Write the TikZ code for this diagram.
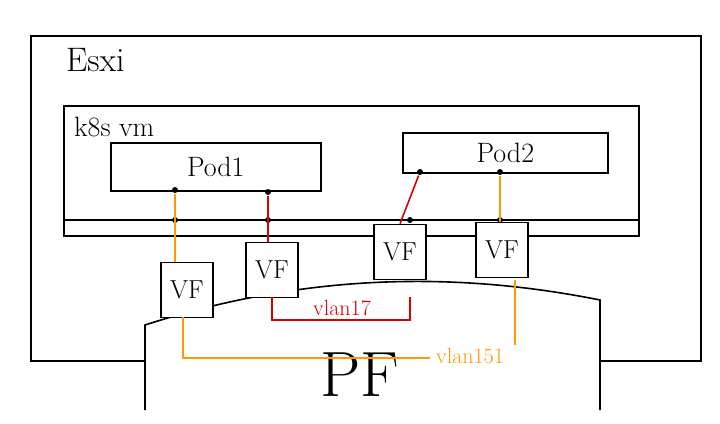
\documentclass[tikz,border=0pt]{standalone}
\begin{document}
\begin{tikzpicture}[x=1pt,y=-1pt,line width=1.6pt,
  fs/.style={font=\fontsize{#1}{#1}\selectfont},
  vf/.style={draw,fill=white,minimum width=52pt,minimum height=55pt,fs=26,inner sep=0pt},
  dot/.style={circle,fill=black,inner sep=0pt,minimum size=6pt},
  ylw/.style={draw=orange!80!yellow},
  rd/.style={draw=red!85!black}]
\useasboundingbox (0,0) rectangle (720,423);
\node[draw,minimum width=670pt,minimum height=325pt,anchor=north west] (esxi) at (30,35) {};
\node[fs=34,anchor=west] (tesxi) at (62,60) {Esxi};
\node[draw,minimum width=575pt,minimum height=130pt,anchor=north west] (vm) at (63,105) {};
\node[fs=28,anchor=west] (tvm) at (70,127) {k8s vm};
\node[draw,minimum width=210pt,minimum height=48pt,anchor=north west,fs=28] (pod1) at (110,142) {Pod1};
\node[draw,minimum width=205pt,minimum height=40pt,anchor=north west,fs=28] (pod2) at (402,132) {Pod2};
\coordinate (l1) at (63,220); \coordinate (l2) at (638,220);
\draw (l1) -- (l2);
% PF
\draw[fill=white] (145,410) -- (145,325) .. controls (300,275) and (450,270) .. (600,300) -- (600,410);
\node[fs=64] (pf) at (360,375) {PF};
\node[vf] (vf1) at (187,290) {VF};
\node[vf] (vf2) at (272,270) {VF};
\node[vf] (vf3) at (400,252) {VF};
\node[vf] (vf4) at (502,250) {VF};
\node[dot] (d1) at (175,190) {}; \node[dot] (d2) at (268,192) {};
\node[dot] (d3) at (420,172) {}; \node[dot] (d4) at (500,172) {};
\node[dot] (e1) at (175,220) {}; \node[dot] (e2) at (268,220) {};
\node[dot] (e3) at (410,220) {}; \node[dot] (e4) at (500,220) {};
\draw[ylw] (d1) -- (vf1.north -| d1);
\draw[rd] (d2) -- (vf2.north -| d2);
\draw[rd] (d3) -- (vf3.north);
\draw[ylw] (d4) -- (vf4.north -| d4);
% vlan17
\coordinate (r1) at (272,297); \coordinate (r2) at (410,297);
\draw[rd] (r1) |- (342,320) -| (r2);
\node[text=red!85!black,fs=22] (v17) at (342,308) {vlan17};
% vlan151
\coordinate (y1) at (183,317); \coordinate (y2) at (515,280);
\draw[ylw] (y1) |- (430,358);
\draw[ylw] (y2) -- (515,345);
\node[text=orange!80!yellow,fs=22,anchor=west] (v151) at (432,356) {vlan151};
\end{tikzpicture}
\end{document}
